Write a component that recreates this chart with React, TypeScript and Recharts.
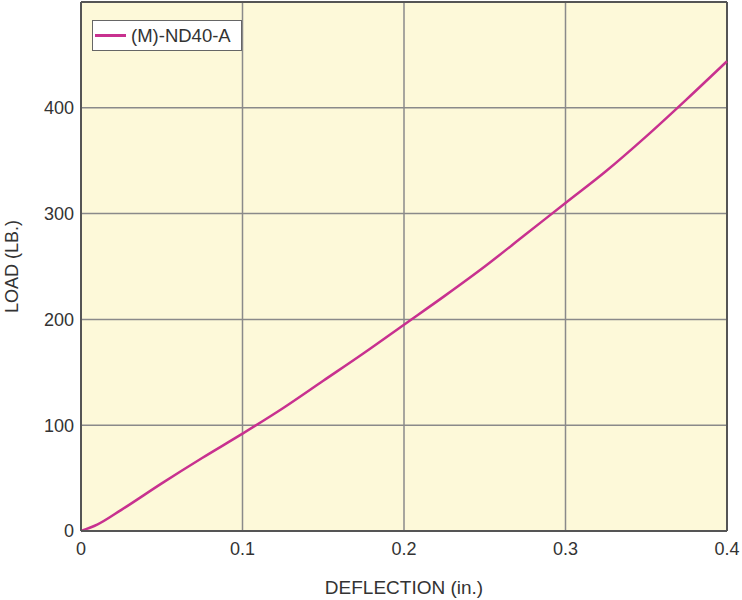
import React from "react";
import { LineChart, Line, XAxis, YAxis, CartesianGrid, ReferenceLine, Legend } from "recharts";

const deflection = [0, 0.01, 0.025, 0.05, 0.075, 0.1, 0.125, 0.15, 0.175, 0.2, 0.225, 0.25, 0.275, 0.3, 0.325, 0.35, 0.375, 0.4];
const load = [0, 6, 20, 45, 69, 92, 116, 142, 168, 195, 222, 250, 280, 310, 340, 373, 408, 444];
const xTicks = [0, 0.1, 0.2, 0.3, 0.4];
const yTicks = [0, 100, 200, 300, 400, 500];

const data = deflection.map((d, i) => ({ d, load: load[i] }));

const lineColor = "#c8318f";
const gridColor = "#8a8a8a";
const textColor = "#333333";
const font = "'Liberation Sans', Arial, sans-serif";

function LegendBox() {
  return (
    <div
      style={{
        display: "flex",
        alignItems: "center",
        border: "1px solid #666",
        background: "#ffffff",
        width: 150,
        height: 31,
        boxSizing: "border-box",
        fontFamily: font,
        fontSize: 18.5,
        color: textColor,
      }}
    >
      <span style={{ display: "inline-block", width: 31, height: 2.5, background: lineColor, marginLeft: 2, marginRight: 5 }} />
      <span>(M)-ND40-A</span>
    </div>
  );
}

export default function App() {
  return (
    <div style={{ position: "absolute", left: 0, top: 0, width: 742, height: 600, background: "#fff" }}>
      <LineChart width={742} height={600} data={data} margin={{ top: 2, right: 15, bottom: 0, left: 0 }}>
        <CartesianGrid stroke={gridColor} strokeWidth={1.5} fill="#fdf9d9" horizontalValues={yTicks} verticalValues={xTicks} />
        <XAxis
          dataKey="d"
          type="number"
          domain={[0, 0.4]}
          ticks={xTicks}
          tickFormatter={(v) => String(v)}
          height={69}
          tickLine={false}
          tickSize={9}
          axisLine={{ stroke: "#555", strokeWidth: 2 }}
          tick={{ fontSize: 18, fill: textColor, fontFamily: font }}
          label={{ value: "DEFLECTION (in.)", position: "insideBottom", offset: 6, fontSize: 19, fill: textColor, fontFamily: font }}
        />
        <YAxis
          type="number"
          domain={[0, 500]}
          ticks={yTicks}
          tickFormatter={(v) => (v === 500 ? "" : String(v))}
          width={81}
          tickLine={false}
          tickSize={5}
          axisLine={{ stroke: "#555", strokeWidth: 2 }}
          tick={{ fontSize: 18, fill: textColor, fontFamily: font }}
          label={{ value: "LOAD (LB.)", angle: -90, position: "insideLeft", offset: 12, style: { textAnchor: "middle" }, fontSize: 18, fill: textColor, fontFamily: font }}
        />
        <ReferenceLine y={500} stroke="#555" strokeWidth={2} />
        <ReferenceLine x={0.4} stroke="#555" strokeWidth={2} />
        <Legend
          content={() => <LegendBox />}
          layout="horizontal"
          verticalAlign="middle"
          align="center"
          wrapperStyle={{ left: 92, top: 20, width: "auto" }}
        />
        <Line
          type="monotone"
          dataKey="load"
          stroke={lineColor}
          strokeWidth={2.5}
          dot={false}
          isAnimationActive={false}
        />
      </LineChart>
    </div>
  );
}
